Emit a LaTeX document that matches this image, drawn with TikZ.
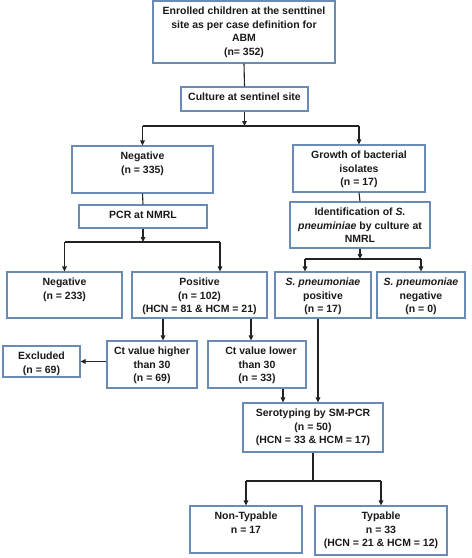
\documentclass[tikz,border=0pt]{standalone}
\usepackage{fontspec}
\setmainfont{Liberation Sans}
\usetikzlibrary{arrows.meta,calc}
\definecolor{bordercol}{HTML}{6A8CB4}
\definecolor{linecol}{HTML}{222222}
\definecolor{textcol}{HTML}{1A1A1A}
\newcommand\bxt[3]{\parbox[c][#2pt][t]{#1pt}{\centering\vspace*{4.3pt}\strut#3\par}}
\tikzset{
  bx/.style={draw=bordercol, line width=1.1pt, fill=white, inner sep=0pt,
    font=\fontsize{10.5}{13.5}\selectfont\bfseries, text=textcol},
  conn/.style={draw=linecol, line width=1.1pt},
  arr/.style={conn, -{Triangle[length=5pt,width=4.5pt]}}
}
\begin{document}
\begin{tikzpicture}[x=1pt,y=-1pt]
\useasboundingbox[fill=white] (0,0) rectangle (472,558);
% boxes
\node[bx] (enr) at (244,32) {\bxt{182}{62}{Enrolled children at the senttinel\\ site as per case definition for\\ ABM\\ (n= 352)}};
\node[bx] (cul) at (244.5,99) {\bxt{127}{24}{Culture at sentinel site}};
\node[bx] (neg) at (142.5,169.5) {\bxt{141}{47}{Negative\\ (n = 335)}};
\node[bx] (gro) at (359,168.5) {\bxt{132}{47}{Growth of bacterial\\ isolates\\ (n = 17)}};
\node[bx] (pcr) at (143,216.5) {\bxt{128}{23}{PCR at NMRL}};
\node[bx] (idn) at (360,225) {\bxt{140}{46}{Identification of \textit{S.}\\ \textit{pneuminiae} by culture at\\ NMRL}};
\node[bx] (neg2) at (64.5,295) {\bxt{115}{46}{Negative\\ (n = 233)}};
\node[bx] (pos) at (199.5,295) {\bxt{135}{46}{Positive\\ (n = 102)\\ (HCN = 81 \& HCM = 21)}};
\node[bx] (spp) at (323,295) {\bxt{96}{46}{\textit{S. pneumoniae}\\ positive\\ (n = 17)}};
\node[bx] (spn) at (421,295) {\bxt{88}{46}{\textit{S. pneumoniae}\\ negative\\ (n = 0)}};
\node[bx] (cth) at (152,364.5) {\bxt{90}{47}{Ct value higher\\ than 30\\ (n = 69)}};
\node[bx] (ctl) at (257,364.5) {\bxt{98}{47}{\hspace*{8pt}Ct value lower\\ than 30\\ (n = 33)}};
\node[bx] (exc) at (41.5,361.5) {\bxt{77}{31}{Excluded\\ (n = 69)}};
\node[bx] (ser) at (313,427.5) {\bxt{140}{49}{Serotyping by SM-PCR\\ (n = 50)\\ (HCN = 33 \& HCM = 17)}};
\node[bx] (nty) at (246,529.5) {\bxt{112}{47}{Non-Typable\\ n = 17}};
\node[bx] (typ) at (381,530.5) {\bxt{132}{49}{Typable\\ n = 33\\ (HCN = 21 \& HCM = 12)}};
% junction coordinates
\coordinate (j1) at (244.5,126);
\coordinate (j2) at (143,242);
\coordinate (j3) at (360,259);
\coordinate (j4) at (313,481);
\path ([xshift=20.5pt]pos.north) coordinate (posin);
\path ([xshift=-18pt]spp.north) coordinate (sppin);
\path ([xshift=-36.5pt]pos.south) coordinate (p1);
\path ([xshift=51.5pt]pos.south) coordinate (p2);
\path ([xshift=26pt]ctl.south) coordinate (c1);
\path ([xshift=-5pt]spp.south) coordinate (s1);
% connectors
\draw[conn] (enr.south) -- (cul.north);
\draw[arr] (cul.south) -- (j1);
\draw[conn] (neg.north |- j1) -- (gro.north |- j1);
\draw[arr] (neg.north |- j1) -- (neg.north);
\draw[arr] (gro.north |- j1) -- (gro.north);
\draw[conn] (neg.south) -- (pcr.north);
\draw[arr] (pcr.south) -- (j2);
\draw[conn] (neg2.north |- j2) -- (posin |- j2);
\draw[arr] (neg2.north |- j2) -- (neg2.north);
\draw[arr] (posin |- j2) -- (posin);
\draw[conn] (gro.south) -- (idn.north);
\draw[arr] (idn.south) -- (j3);
\draw[conn] (sppin |- j3) -- (spn.north |- j3);
\draw[arr] (sppin |- j3) -- (sppin);
\draw[arr] (spn.north |- j3) -- (spn.north);
\draw[arr] (p1) -- (p1 |- cth.north);
\draw[arr] (p2) -- (p2 |- ctl.north);
\draw[arr] (exc.east -| cth.west) -- (exc.east);
\draw[arr] (c1) -- (c1 |- ser.north);
\draw[arr] (s1) -- (s1 |- ser.north);
\draw[conn] (ser.south) -- (j4);
\draw[conn] (nty.north |- j4) -- (typ.north |- j4);
\draw[arr] (nty.north |- j4) -- (nty.north);
\draw[arr] (typ.north |- j4) -- (typ.north);
\end{tikzpicture}
\end{document}
